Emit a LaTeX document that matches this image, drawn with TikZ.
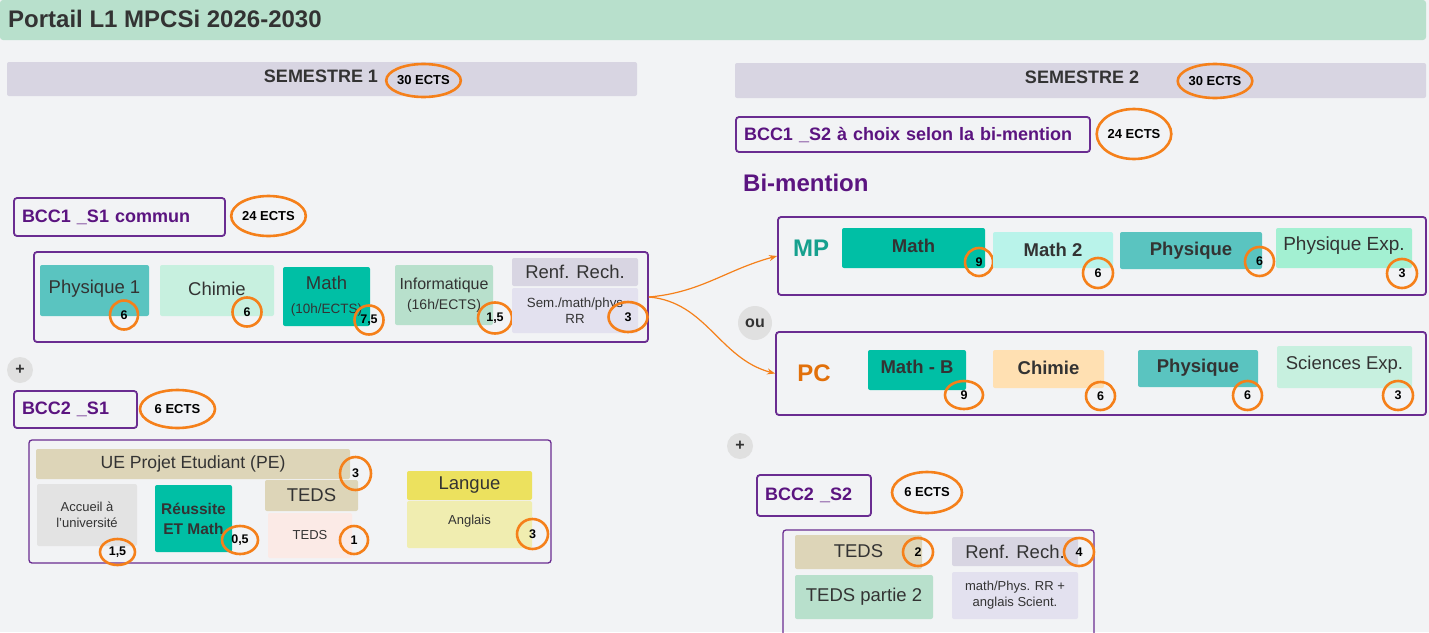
\documentclass[tikz,border=0pt]{standalone}
\usepackage{fontspec}
\setmainfont{Liberation Sans}
\usetikzlibrary{shapes.geometric,arrows.meta}
\definecolor{bgc}{HTML}{F2F3F5}
\definecolor{titlec}{HTML}{B8E0CC}
\definecolor{semc}{HTML}{D8D5E2}
\definecolor{ectsc}{HTML}{F5801A}
\definecolor{purp}{HTML}{6A2C91}
\definecolor{purptxt}{HTML}{5B1480}
\definecolor{txt}{HTML}{333333}
\definecolor{tealdk}{HTML}{00BFA5}
\definecolor{tealmd}{HTML}{5AC4C0}
\definecolor{tealpale}{HTML}{C7F0DF}
\definecolor{cyanpale}{HTML}{B9F3EA}
\definecolor{mintc}{HTML}{A3F0D2}
\definecolor{sagec}{HTML}{B8E0CC}
\definecolor{lavh}{HTML}{D8D5E2}
\definecolor{lavl}{HTML}{E3E1EF}
\definecolor{khaki}{HTML}{DDD5B8}
\definecolor{greyc}{HTML}{E3E3E3}
\definecolor{pinkc}{HTML}{FBEAE6}
\definecolor{yellowh}{HTML}{ECE15E}
\definecolor{yellowl}{HTML}{F0EDB0}
\definecolor{peach}{HTML}{FFE0B2}
\definecolor{mpc}{HTML}{16A08E}
\definecolor{pcc}{HTML}{E2700A}
\definecolor{roundc}{HTML}{E0E0E0}
\newcommand{\upshift}[2]{\raisebox{#1}[\height][\depth]{#2}}
\tikzset{
  sz/.style 2 args={minimum width=#1pt, minimum height=#2pt},
  card/.style={rectangle, rounded corners=2pt, inner sep=0pt, text=txt, align=center, font=\fontsize{18.5}{22}\selectfont},
  cardb/.style={card, font=\bfseries\fontsize{18.5}{22}\selectfont},
  frame/.style={rectangle, rounded corners=3pt, draw=purp, line width=1.8pt, inner sep=0pt},
  bcclabel/.style={frame, text=purptxt, align=left, inner xsep=8pt, font=\bfseries\fontsize{18}{22}\selectfont},
  ects/.style={ellipse, draw=ectsc, line width=2.6pt, inner sep=0pt, text=black, font=\bfseries\fontsize{12.5}{14}\selectfont},
  bigects/.style={ects, font=\bfseries\fontsize{13}{15}\selectfont},
  roundbtn/.style={circle, fill=roundc, inner sep=0pt, text=txt, font=\bfseries\fontsize{16}{18}\selectfont},
  link/.style={draw=ectsc, line width=1.2pt, -{Stealth[length=8pt,width=6pt]}}
}
\begin{document}
\begin{tikzpicture}[x=1pt,y=-1pt]
\useasboundingbox (0,0) rectangle (1429,632);
\clip (0,0) rectangle (1429,632);
\fill[bgc] (0,0) rectangle (1429,632);

% title
\node[rectangle, rounded corners=3pt, fill=titlec, sz={1426}{40}, inner sep=0pt] (titlebar) at (713,20) {};
\node[anchor=west, inner sep=0pt, text=txt, font=\bfseries\fontsize{24}{28}\selectfont] (title) at (8,19) {Portail L1 MPCSi 2026-2030};

% semester bars
\node[rectangle, rounded corners=2pt, fill=semc, sz={630}{34}, inner sep=0pt] (sem1bar) at (322,79) {};
\node[inner sep=0pt, text=txt, font=\bfseries\fontsize{18}{22}\selectfont] (sem1) at (321,76) {SEMESTRE 1};
\node[bigects, sz={71}{33}] (e30a) at (423.5,80.5) {30 ECTS};
\node[rectangle, rounded corners=2pt, fill=semc, sz={691}{35}, inner sep=0pt] (sem2bar) at (1080.5,80.5) {};
\node[inner sep=0pt, text=txt, font=\bfseries\fontsize{18}{22}\selectfont] (sem2) at (1082,77) {SEMESTRE 2};
\node[bigects, sz={70}{34}] (e30b) at (1215,81) {30 ECTS};

% ---------- Semester 1, BCC1
\node[bcclabel, text width=195pt, minimum height=38pt] (bcc1s1) at (119.5,217) {BCC1 \_S1 commun};
\node[bigects, sz={73}{40}] (e24a) at (268.5,216) {24 ECTS};
\node[frame, sz={614}{90}] (s1box) at (341,297) {};

\node[card, fill=tealmd, sz={109}{51}] (phys1) at (94.5,290.5) {\upshift{2pt}{Physique 1}};
\node[ects, sz={28}{29}] (n-phys1) at (124,315) {6};
\node[card, fill=tealpale, sz={114}{51}] (chim1) at (217,290.5) {\upshift{2pt}{Chimie}};
\node[ects, sz={29}{29}] (n-chim1) at (247,312) {6};
\node[card, fill=tealdk, sz={87}{59}] (math1) at (326.5,296.5) {Math\\[2pt]{\fontsize{13.5}{16}\selectfont (10h/ECTS)}};
\node[ects, sz={29}{29}] (n-math1) at (369,320) {7,5};
\node[card, fill=sagec, sz={98}{60}, font=\fontsize{16}{19}\selectfont] (info1) at (444,295) {Informatique\\[1pt]{\fontsize{14}{17}\selectfont (16h/ECTS)}};
\node[ects, sz={34}{31}] (n-info1) at (495,318) {1,5};
\node[card, fill=lavh, sz={126}{28}] (renfh1) at (575,272) {Renf. Rech.};
\node[card, fill=lavl, sz={126}{45}, font=\fontsize{13.3}{16}\selectfont] (renfl1) at (575,310.5) {Sem./math/phys\\RR};
\node[ects, sz={39}{30}] (n-renf1) at (628,317) {3};

\node[roundbtn, minimum size=26pt] (plus1) at (20,370) {+};

% ---------- Semester 1, BCC2
\node[bcclabel, text width=107pt, minimum height=37pt] (bcc2s1) at (75.5,409.5) {BCC2 \_S1};
\node[bigects, sz={75}{38}] (e6a) at (177.5,409) {6 ECTS};
\node[frame, sz={522}{123}, line width=1.3pt] (s1box2) at (290,501.5) {};

\node[card, fill=khaki, sz={314}{30}, font=\fontsize{17.6}{21}\selectfont] (ue) at (193,464) {UE Projet Etudiant (PE)};
\node[card, fill=greyc, sz={100}{62}, font=\fontsize{13}{16}\selectfont] (accueil) at (87,515) {Accueil à\\l'université};
\node[ects, sz={35}{26}] (n-accueil) at (117.5,552) {1,5};
\node[cardb, fill=tealdk, sz={77}{67}, font=\bfseries\fontsize{15.5}{20}\selectfont] (reussite) at (193.5,518.5) {Réussite\\ET Math};
\node[ects, sz={36}{28}] (n-reussite) at (240,540) {0,5};
\node[card, fill=khaki, sz={93}{31}] (tedsh1) at (311.5,495.5) {TEDS};
\node[card, fill=pinkc, sz={84}{45}, font=\fontsize{13}{16}\selectfont] (tedsl1) at (310,535.5) {TEDS};
\node[ects, sz={28}{28}] (n-teds1) at (354,540) {1};
\node[ects, sz={31}{33}] (n-ue) at (355.5,473.5) {3};
\node[card, fill=yellowh, sz={125}{29}] (langue) at (469.5,485.5) {Langue};
\node[card, fill=yellowl, sz={125}{47}, font=\fontsize{13}{16}\selectfont] (anglais) at (469.5,524.5) {\upshift{3pt}{Anglais}};
\node[ects, sz={31}{30}] (n-anglais) at (532.5,534) {3};

% ---------- Semester 2, BCC1
\node[bcclabel, text width=338pt, minimum height=35pt] (bcc1s2) at (913,134.5) {BCC1 \_S2 à choix selon la bi-mention};
\node[bigects, sz={72}{50}] (e24b) at (1134,134) {24 ECTS};
\node[anchor=west, inner sep=0pt, text=purptxt, font=\bfseries\fontsize{24}{28}\selectfont] (bimention) at (743,183) {Bi-mention};

\node[frame, sz={648}{78}] (mpbox) at (1102,256) {};
\node[inner sep=0pt, text=mpc, font=\bfseries\fontsize{24}{28}\selectfont] (mp) at (811,248) {MP};
\node[cardb, fill=tealdk, sz={143}{40}] (mpmath) at (913.5,248) {\upshift{2pt}{Math}};
\node[ects, sz={28}{28}] (n-mpmath) at (979,262) {9};
\node[cardb, fill=cyanpale, sz={120}{36}] (mpmath2) at (1053,250) {Math 2};
\node[ects, sz={30}{30}] (n-mpmath2) at (1098,273) {6};
\node[cardb, fill=tealmd, sz={142}{37}] (mpphys) at (1191,250.5) {Physique};
\node[ects, sz={29}{29}] (n-mpphys) at (1259.5,261.5) {6};
\node[card, fill=mintc, sz={136}{40}, font=\fontsize{19}{22}\selectfont] (mpexp) at (1344,248) {\upshift{2.5pt}{Physique Exp.}};
\node[ects, sz={30}{29}] (n-mpexp) at (1402,273.5) {3};

\node[roundbtn, minimum size=34pt] (ou) at (755,323) {ou};

\node[frame, sz={650}{83}] (pcbox) at (1101,373.5) {};
\node[inner sep=0pt, text=pcc, font=\bfseries\fontsize{24}{28}\selectfont] (pc) at (814,373) {PC};
\node[cardb, fill=tealdk, sz={98}{40}] (pcmath) at (917,370) {\upshift{3pt}{Math - B}};
\node[ects, sz={38}{28}] (n-pcmath) at (964,395) {9};
\node[cardb, fill=peach, sz={111}{38}] (pcchim) at (1048.5,369) {\upshift{1pt}{Chimie}};
\node[ects, sz={29}{28}] (n-pcchim) at (1100.5,396) {6};
\node[cardb, fill=tealmd, sz={120}{37}] (pcphys) at (1198,368.5) {\upshift{1pt}{Physique}};
\node[ects, sz={29}{29}] (n-pcphys) at (1247.5,395.5) {6};
\node[card, fill=tealpale, sz={135}{42}] (pcsci) at (1344.5,367) {\upshift{2pt}{Sciences Exp.}};
\node[ects, sz={30}{29}] (n-pcsci) at (1398,395.5) {3};

\node[roundbtn, minimum size=26pt] (plus2) at (740,446) {+};

% ---------- Semester 2, BCC2
\node[bcclabel, text width=98pt, minimum height=41pt] (bcc2s2) at (814,495.5) {BCC2 \_S2};
\node[bigects, sz={70}{41}] (e6b) at (927,492.5) {6 ECTS};
\node[frame, sz={311}{112}, line width=1.3pt] (s2box2) at (938.5,586) {};
\node[card, fill=khaki, sz={127}{34}] (teds2) at (858.5,552) {\upshift{1pt}{TEDS}};
\node[ects, sz={30}{28}] (n-teds2) at (918,552) {2};
\node[card, fill=sagec, sz={138}{44}] (tedsp2) at (864,597) {TEDS partie 2};
\node[card, fill=lavh, sz={126}{29}] (renf2) at (1015,551.5) {Renf. Rech.};
\node[ects, sz={30}{28}] (n-renf2) at (1079,552) {4};
\node[card, fill=lavl, sz={126}{47}, font=\fontsize{13}{16}\selectfont] (mathphys2) at (1015,595.5) {math/Phys. RR +\\anglais Scient.};

% connectors
\draw[link] (s1box.east) to[out=5,in=195] (mpbox.west);
\draw[link] (s1box.east) to[out=-5,in=165] (pcbox.west);
\end{tikzpicture}
\end{document}
